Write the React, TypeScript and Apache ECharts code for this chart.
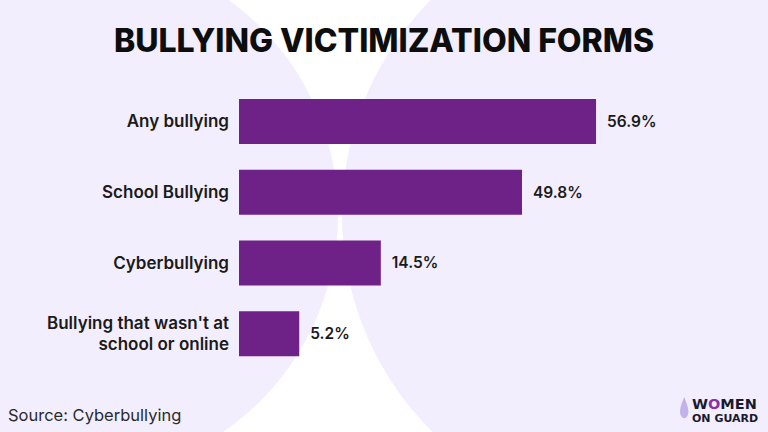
import React, { useEffect, useRef } from "react";
import * as echarts from "echarts";

// Category names (top to bottom)
const categories = [
  "Any bullying",
  "School Bullying",
  "Cyberbullying",
  "Bullying that wasn't at\nschool or online",
];
// Percent values shown as labels
const percentValues = [56.9, 49.8, 14.5, 5.2];
// Bar lengths as drawn in the picture (the source graphic is not to scale), read against the 56.9 bar
const drawnLengths = [56.9, 45.1, 22.6, 9.6];

const TITLE = "BULLYING VICTIMIZATION FORMS";
const SOURCE = "Source: Cyberbullying";

echarts.graphic.registerShape(
  "drop",
  echarts.graphic.extendPath(
    "M6 0 C3 6 0 11 0 16 C0 20 3 23 6 23 C9 23 12 20 12 16 C12 11 9 6 6 0 Z",
    {}
  )
);

export default function App() {
  const ref = useRef<HTMLDivElement>(null);
  useEffect(() => {
    if (!ref.current) return;
    const chart = echarts.init(ref.current, undefined, { renderer: "svg" });
    const lavender = "#f2eefd";
    chart.setOption({
      animation: false,
      backgroundColor: "#ffffff",
      title: {
        text: TITLE,
        left: "center",
        top: 19,
        textStyle: {
          fontFamily: "Inter",
          fontWeight: 800,
          fontSize: 32,
          color: "#0d0d0d",
        },
      },
      grid: { left: 239, right: 27, top: 86, bottom: 63, containLabel: false },
      xAxis: { type: "value", min: 0, max: 80, show: false },
      yAxis: {
        type: "category",
        inverse: true,
        data: categories,
        axisLine: { show: false },
        axisTick: { show: false },
        axisLabel: {
          margin: 10,
          fontFamily: "Inter",
          fontWeight: 600,
          fontSize: 17,
          lineHeight: 21,
          align: "right",
          color: "#1a1a1a",
        },
      },
      series: [
        {
          type: "bar",
          data: drawnLengths,
          barWidth: 45,
          itemStyle: { color: "#6e2187" },
          label: {
            show: true,
            position: "right",
            distance: 11,
            fontFamily: "Inter",
            fontWeight: 600,
            fontSize: 15.5,
            color: "#1a1a1a",
            formatter: (p: any) => percentValues[p.dataIndex].toFixed(1) + "%",
          },
          z: 5,
        },
      ],
      graphic: [
        { type: "circle", z: -10, silent: true, shape: { cx: 74, cy: 214, r: 264 }, style: { fill: lavender } },
        { type: "circle", z: -10, silent: true, shape: { cx: 647, cy: 215, r: 305 }, style: { fill: lavender } },
        {
          type: "text",
          left: 8,
          top: 406,
          style: {
            text: SOURCE,
            fontFamily: "Inter",
            fontWeight: 400,
            fontSize: 16.5,
            fill: "#2a2a2a",
          },
        },
        {
          type: "drop",
          x: 680,
          y: 397,
          scaleX: 0.7,
          scaleY: 0.92,
          style: { fill: "#c3b1ee" },
        },
        {
          type: "text",
          x: 692,
          y: 396,
          style: {
            text: "W{o|O}MEN",
            rich: { o: { fill: "#8a2fa8", fontFamily: "DejaVu Sans", fontWeight: "bold", fontSize: 14.5 } },
            fontFamily: "DejaVu Sans",
            fontWeight: "bold",
            fontSize: 14.5,
            fill: "#1a1a2e",
          },
        },
        {
          type: "text",
          x: 692,
          y: 413,
          style: {
            text: "ON GUARD",
            fontFamily: "DejaVu Sans",
            fontWeight: "bold",
            fontSize: 11,
            fill: "#1a1a2e",
          },
        },
      ],
    });
    return () => chart.dispose();
  }, []);
  return <div ref={ref} style={{ width: 768, height: 432, position: "fixed", left: 0, top: 0 }} />;
}
